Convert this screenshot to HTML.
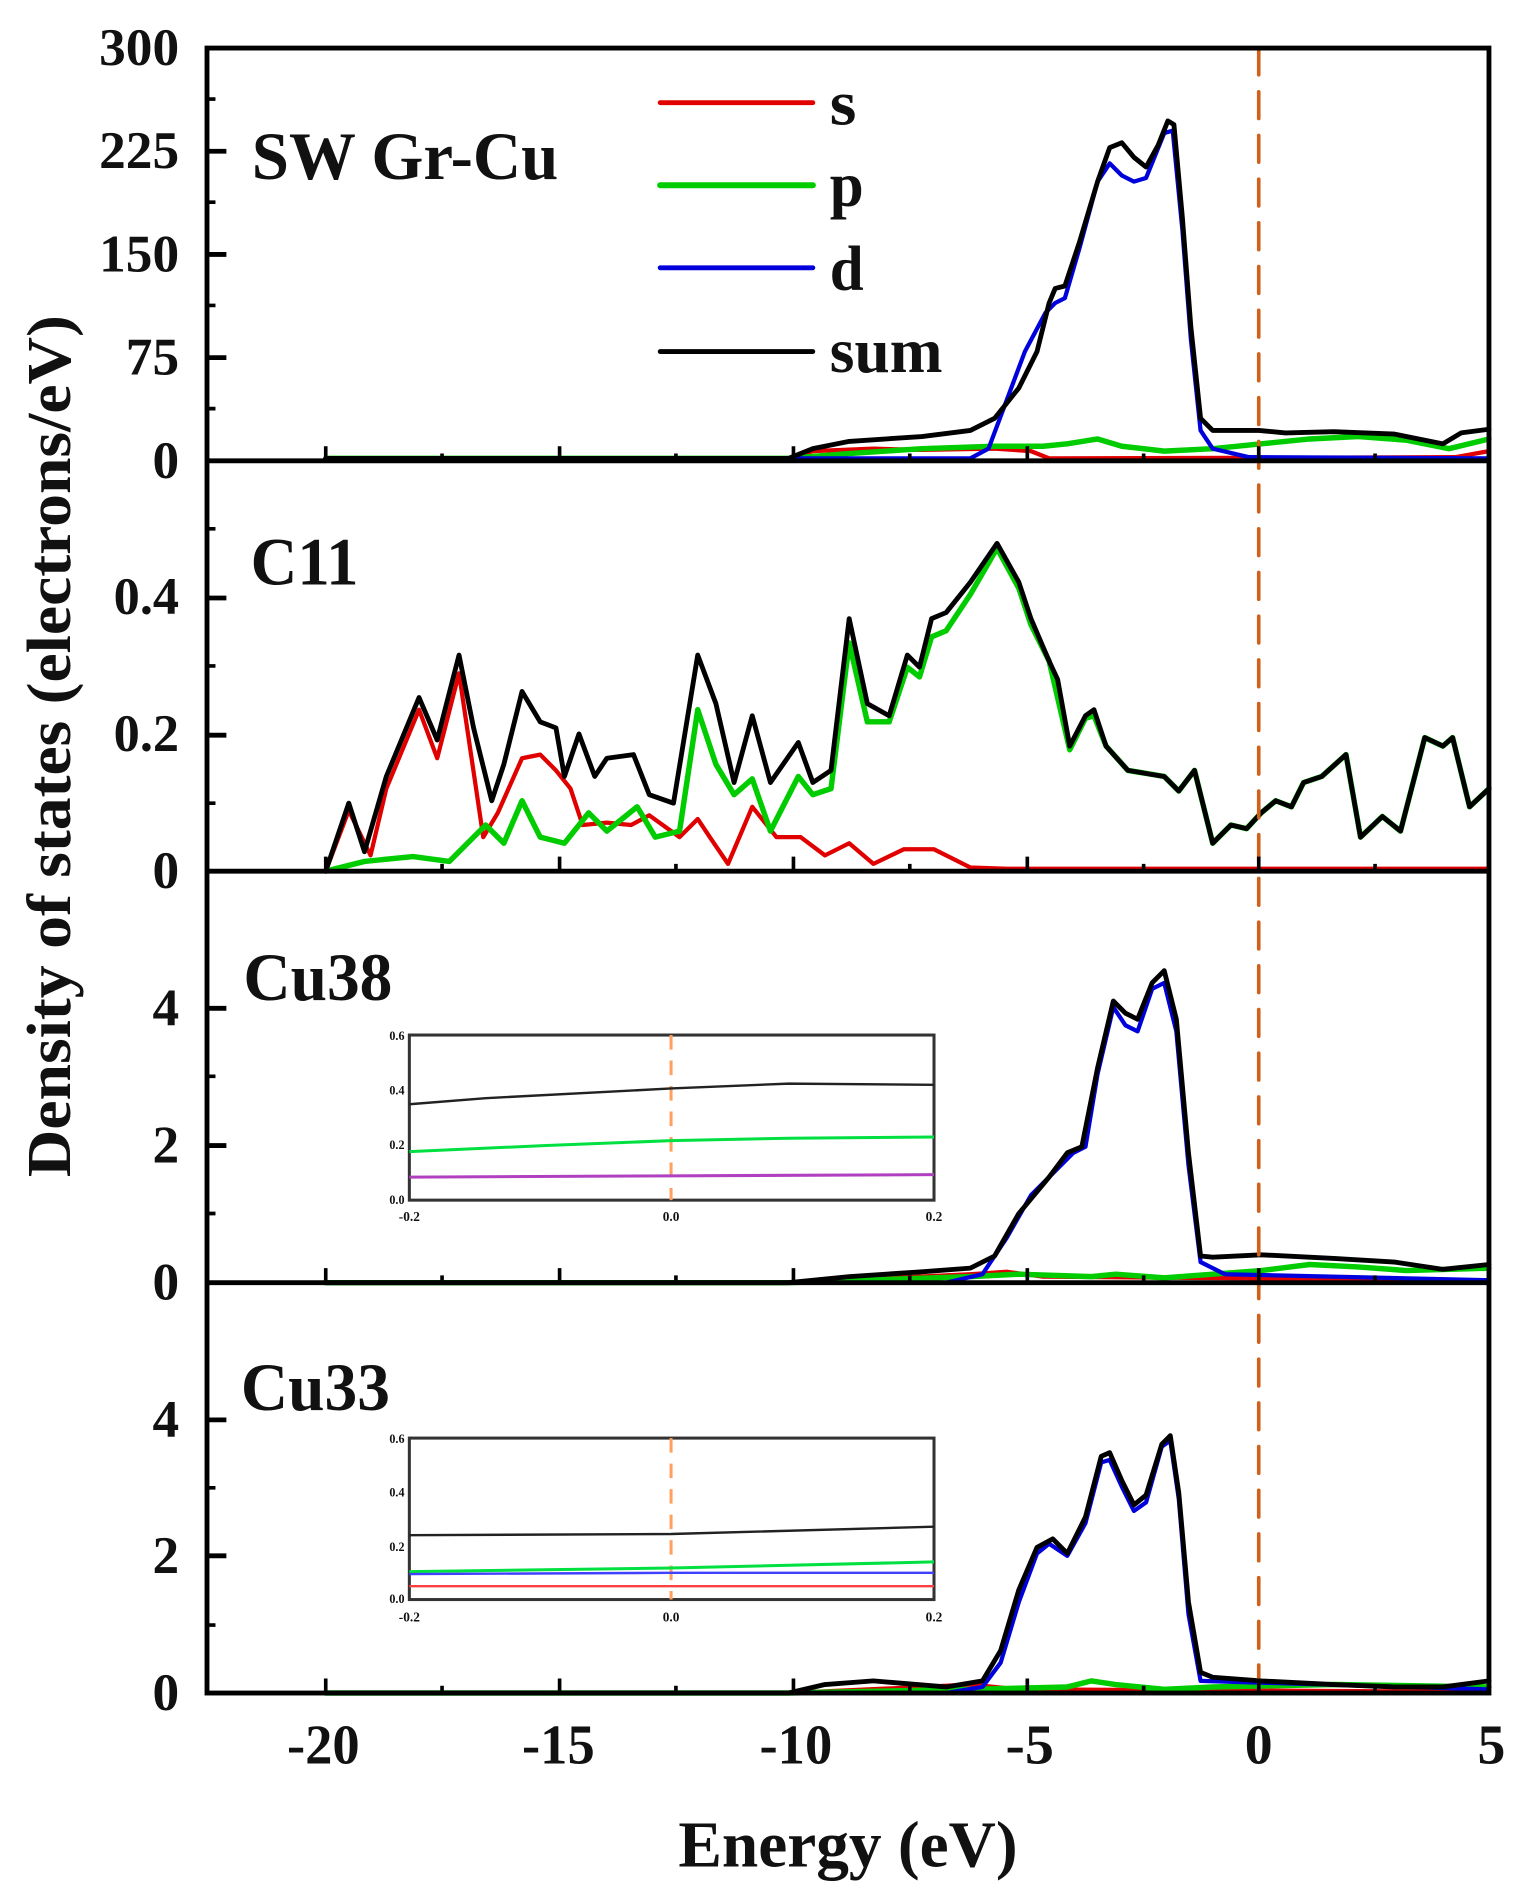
<!DOCTYPE html>
<html><head><meta charset="utf-8"><style>
html,body{margin:0;padding:0;background:#fff;}
svg{display:block;}
text{font-family:"Liberation Serif",serif;font-weight:bold;fill:#111;}
</style></head><body>
<svg width="1527" height="1901" viewBox="0 0 1527 1901" xmlns="http://www.w3.org/2000/svg">
<g transform="matrix(1.2117 0 0 1.214 1 -0.5)">
<g fill="none" stroke-linejoin="round" stroke-linecap="round">
<!-- Panel 1 -->
<polyline stroke="#e00000" stroke-width="3.5" points="268,378 650,378 670,372 720,370 760,371 820,370 850,372 865,378 1200,377 1228,372"/>
<polyline stroke="#00cc00" stroke-width="4.5" points="268,378 650,378 700,374 760,370 820,368 860,368 880,366 905,362 925,368 960,372 1000,370 1040,366 1080,362 1120,360 1160,363 1195,370 1228,362"/>
<polyline stroke="#0000dd" stroke-width="3.5" points="268,378 800,378 815,370 830,330 845,290 862,258 870,250 878,246 890,205 905,150 915,135 925,145 935,150 945,147 960,110 967,108 975,190 982,280 990,355 1000,370 1030,377 1228,378"/>
<polyline stroke="#000" stroke-width="4" points="268,378 650,378 670,370 700,364 760,360 800,355 820,345 840,320 855,290 865,250 870,238 878,236 890,200 905,150 915,122 925,118 935,130 945,138 955,120 963,100 968,103 975,180 982,270 990,345 1000,355 1038,355 1060,357 1100,356 1150,358 1190,366 1205,357 1228,354"/>
<!-- Panel 2 -->
<polyline stroke="#e00000" stroke-width="3.5" points="268,718 287,668 305,705 318,650 345,585 360,625 378,555 398,690 410,670 430,625 445,622 458,635 470,650 480,680 500,678 520,680 535,672 560,690 575,675 585,690 600,712 620,665 640,690 660,690 680,705 700,695 720,712 745,700 770,700 800,715 830,716 1228,716"/>
<polyline stroke="#0000dd" stroke-width="2.5" points="268,718 1228,718"/>
<polyline stroke="#00cc00" stroke-width="4.5" points="268,718 300,710 340,706 370,710 400,680 415,695 430,660 445,690 465,695 485,670 500,685 525,665 540,690 560,685 575,585 590,630 605,655 620,642 635,685 658,640 670,655 685,650 700,530 715,595 733,595 748,550 758,558 768,525 780,520 800,490 822,452 840,485 850,515 865,545 882,618 895,592 902,590 912,615 930,635 960,640 972,652 985,635 1000,695 1015,680 1028,683 1040,670 1052,660 1065,665 1075,645 1090,640 1110,622 1122,690 1140,673 1155,685 1175,608 1190,615 1198,608 1212,665 1228,650"/>
<polyline stroke="#000" stroke-width="4" points="268,718 287,662 300,702 318,640 345,575 360,610 378,540 390,600 405,660 415,630 430,570 445,595 458,600 465,640 477,605 490,640 500,625 522,622 535,655 555,662 575,540 590,580 605,645 620,590 635,645 658,612 670,645 685,635 700,510 715,580 733,590 748,540 758,550 768,510 780,505 800,480 822,448 840,480 850,510 865,545 872,560 882,615 895,590 902,585 912,615 930,635 960,640 972,652 985,635 1000,695 1015,680 1028,683 1040,670 1052,660 1065,665 1075,645 1090,640 1110,622 1122,690 1140,673 1155,685 1175,608 1190,615 1198,608 1212,665 1228,650"/>
<!-- Panel 3 -->
<polyline stroke="#e00000" stroke-width="3.5" points="268,1057 650,1057 800,1050 830,1048 860,1052 1228,1055"/>
<polyline stroke="#00cc00" stroke-width="4.5" points="268,1057 650,1057 800,1052 840,1050 900,1052 920,1050 960,1053 1000,1050 1040,1047 1080,1042 1120,1044 1160,1047 1228,1045"/>
<polyline stroke="#0000dd" stroke-width="3.5" points="268,1057 780,1057 810,1050 830,1020 850,985 870,965 885,950 895,945 905,885 918,830 928,845 938,850 950,815 960,810 970,850 980,960 990,1040 1010,1050 1228,1055"/>
<polyline stroke="#000" stroke-width="4" points="268,1057 650,1057 700,1052 760,1048 800,1045 820,1035 840,1000 865,970 880,950 892,945 905,880 918,825 928,835 938,840 950,810 960,800 970,840 980,950 990,1035 1000,1036 1040,1034 1100,1037 1150,1040 1190,1046 1228,1042"/>
<!-- Panel 4 -->
<polyline stroke="#e00000" stroke-width="3.5" points="268,1395 650,1395 760,1390 800,1388 840,1392 1228,1394"/>
<polyline stroke="#00cc00" stroke-width="4.5" points="268,1395 650,1395 800,1392 880,1390 900,1385 920,1388 960,1392 1000,1390 1100,1388 1228,1390"/>
<polyline stroke="#0000dd" stroke-width="3.5" points="268,1395 780,1395 810,1390 825,1370 840,1320 855,1280 865,1272 880,1282 895,1255 908,1205 915,1203 925,1225 935,1245 945,1238 958,1192 965,1187 972,1235 980,1330 990,1385 1228,1392"/>
<polyline stroke="#000" stroke-width="4" points="268,1395 650,1395 680,1388 720,1385 780,1390 810,1385 825,1360 840,1310 855,1275 868,1268 880,1280 895,1250 908,1200 915,1197 925,1220 935,1240 945,1232 958,1190 965,1183 972,1230 980,1320 990,1378 1000,1382 1040,1385 1100,1388 1150,1390 1190,1390 1228,1385"/>
<!-- Fermi line -->
<line x1="1038" y1="40" x2="1038" y2="1395" stroke="#d0601a" stroke-width="3" stroke-dasharray="22,14"/>
<!-- Legend -->
<line x1="544" y1="85" x2="670" y2="85" stroke="#e00000" stroke-width="4"/>
<line x1="544" y1="153" x2="670" y2="153" stroke="#00cc00" stroke-width="5"/>
<line x1="544" y1="221" x2="670" y2="221" stroke="#0000dd" stroke-width="4"/>
<line x1="544" y1="290" x2="670" y2="290" stroke="#000" stroke-width="4"/>
</g>
<!-- Insets -->
<g fill="none">
<rect x="337" y="853" width="433" height="136" fill="#fff" stroke="#333" stroke-width="2.5"/>
<line x1="553" y1="853" x2="553" y2="989" stroke="#ffa060" stroke-width="2.5" stroke-dasharray="12,9"/>
<polyline stroke="#222" stroke-width="2" points="337,910 400,905 553,897 650,893 770,894"/>
<polyline stroke="#00e040" stroke-width="2.5" points="337,949 450,944 553,940 650,938 770,937"/>
<polyline stroke="#b040c0" stroke-width="2.5" points="337,970 553,969 770,968"/>
<rect x="337" y="1185" width="433" height="133" fill="#fff" stroke="#333" stroke-width="2.5"/>
<line x1="553" y1="1185" x2="553" y2="1318" stroke="#ffa060" stroke-width="2.5" stroke-dasharray="12,9"/>
<polyline stroke="#222" stroke-width="2" points="337,1265 553,1264 770,1258"/>
<polyline stroke="#00e040" stroke-width="2.5" points="337,1295 553,1292 770,1287"/>
<polyline stroke="#4040ff" stroke-width="2" points="337,1297 553,1296 770,1296"/>
<polyline stroke="#ff4040" stroke-width="2" points="337,1307 770,1307"/>
</g>
<g font-size="11" text-anchor="middle">
<text x="337" y="1006">-0.2</text><text x="553" y="1006">0.0</text><text x="770" y="1006">0.2</text>
<text x="337" y="1336">-0.2</text><text x="553" y="1336">0.0</text><text x="770" y="1336">0.2</text>
</g>
<g font-size="10" text-anchor="end">
<text x="333" y="857">0.6</text><text x="333" y="902">0.4</text><text x="333" y="947">0.2</text><text x="333" y="992">0.0</text>
<text x="333" y="1189">0.6</text><text x="333" y="1233">0.4</text><text x="333" y="1278">0.2</text><text x="333" y="1321">0.0</text>
</g>
<!-- Frames -->
<g fill="none" stroke="#000" stroke-width="4">
<rect x="170" y="40" width="1058" height="1355"/>
<line x1="170" y1="380" x2="1228" y2="380"/>
<line x1="170" y1="718" x2="1228" y2="718"/>
<line x1="170" y1="1057" x2="1228" y2="1057"/>
</g>
<g stroke="#000" stroke-width="3">
<path d="M268,380v-12M461,380v-12M654,380v-12M847,380v-12M1038,380v-12M364,380v-6M557,380v-6M750,380v-6M943,380v-6M1134,380v-6"/>
<path d="M268,718v-12M461,718v-12M654,718v-12M847,718v-12M1038,718v-12M364,718v-6M557,718v-6M750,718v-6M943,718v-6M1134,718v-6"/>
<path d="M268,1057v-12M461,1057v-12M654,1057v-12M847,1057v-12M1038,1057v-12M364,1057v-6M557,1057v-6M750,1057v-6M943,1057v-6M1134,1057v-6"/>
<path d="M268,1395v-12M461,1395v-12M654,1395v-12M847,1395v-12M1038,1395v-12M364,1395v-6M557,1395v-6M750,1395v-6M943,1395v-6M1134,1395v-6"/>
<path stroke-width="4" d="M170,125h16M170,210h16M170,295h16M170,493h16M170,606h16M170,831h16M170,944h16M170,1170h16M170,1282h16"/>
<path d="M170,82h7M170,167h7M170,252h7M170,337h7M170,549h7M170,662h7M170,436h7M170,887h7M170,1000h7M170,1226h7M170,1339h7"/>
</g>
<!-- Labels -->
<g font-size="52">
<text x="684" y="103" textLength="22" lengthAdjust="spacingAndGlyphs">s</text>
<text x="684" y="170" textLength="28" lengthAdjust="spacingAndGlyphs">p</text>
<text x="684" y="239" textLength="28" lengthAdjust="spacingAndGlyphs">d</text>
<text x="684" y="307" textLength="93" lengthAdjust="spacingAndGlyphs">sum</text>
</g>
<g font-size="56">
<text x="207" y="148" textLength="253" lengthAdjust="spacingAndGlyphs">SW Gr-Cu</text>
<text x="206" y="482" textLength="89" lengthAdjust="spacingAndGlyphs">C11</text>
<text x="200" y="824" textLength="123" lengthAdjust="spacingAndGlyphs">Cu38</text>
<text x="198" y="1162" textLength="123" lengthAdjust="spacingAndGlyphs">Cu33</text>
</g>
<g font-size="44" text-anchor="end">
<text x="147" y="54" textLength="66" lengthAdjust="spacingAndGlyphs">300</text>
<text x="147" y="139" textLength="66" lengthAdjust="spacingAndGlyphs">225</text>
<text x="147" y="224" textLength="66" lengthAdjust="spacingAndGlyphs">150</text>
<text x="147" y="309" textLength="44" lengthAdjust="spacingAndGlyphs">75</text>
<text x="147" y="394">0</text>
<text x="147" y="506" textLength="54" lengthAdjust="spacingAndGlyphs">0.4</text>
<text x="147" y="619" textLength="54" lengthAdjust="spacingAndGlyphs">0.2</text>
<text x="147" y="732">0</text>
<text x="147" y="845">4</text><text x="147" y="958">2</text><text x="147" y="1071">0</text>
<text x="147" y="1184">4</text><text x="147" y="1296">2</text><text x="147" y="1409">0</text>
</g>
<g font-size="46" text-anchor="middle">
<text x="266" y="1453" textLength="60" lengthAdjust="spacingAndGlyphs">-20</text>
<text x="460" y="1453" textLength="60" lengthAdjust="spacingAndGlyphs">-15</text>
<text x="656" y="1453" textLength="60" lengthAdjust="spacingAndGlyphs">-10</text>
<text x="849" y="1453" textLength="40" lengthAdjust="spacingAndGlyphs">-5</text>
<text x="1038" y="1453">0</text><text x="1230" y="1453">5</text>
</g>
<text x="559" y="1538" font-size="54" textLength="280" lengthAdjust="spacingAndGlyphs">Energy (eV)</text>
<text transform="translate(57,970) rotate(-90)" font-size="52" textLength="710" lengthAdjust="spacingAndGlyphs">Density of states (electrons/eV)</text>
</g>
</svg>
</body></html>
